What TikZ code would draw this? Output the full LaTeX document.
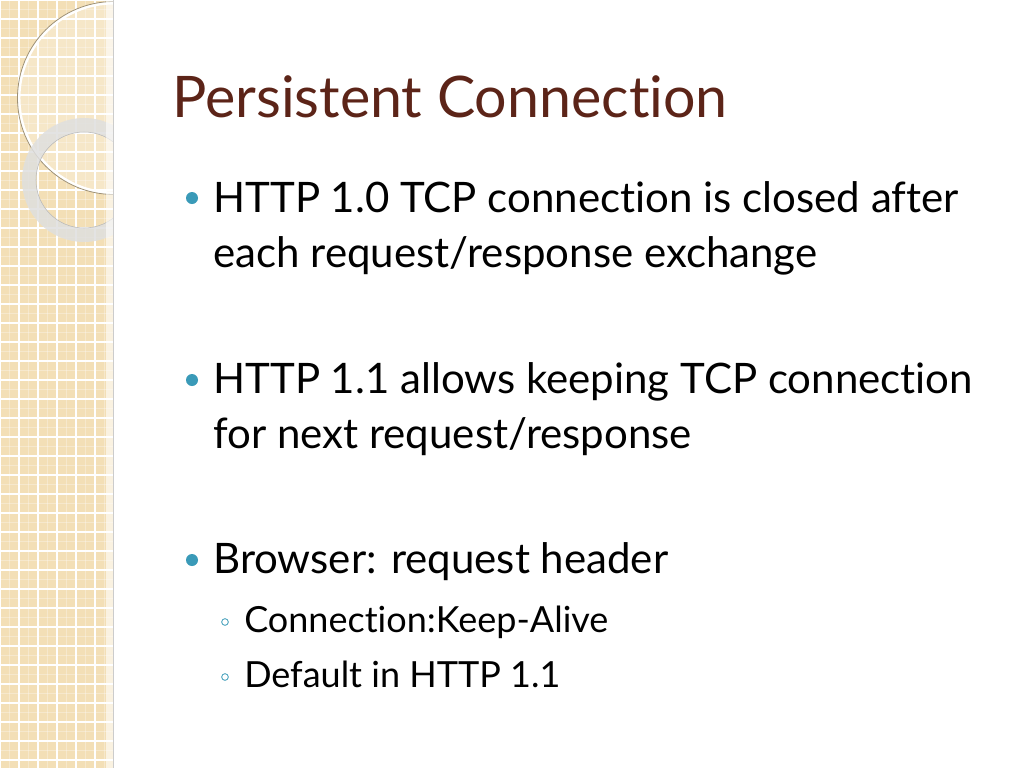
\documentclass[tikz,border=0pt]{standalone}
\usepackage{fontspec}
\setmainfont[Ligatures=NoCommon]{Lato}
\definecolor{strip}{HTML}{F3DFB6}
\definecolor{titlec}{HTML}{5C2418}
\definecolor{bul}{HTML}{3A9AB8}
\begin{document}
\begin{tikzpicture}[x=0.75pt,y=-0.75pt,
  body/.style={anchor=base west,inner sep=0pt,font=\fontsize{31.5}{36}\selectfont},
  sub/.style={anchor=base west,inner sep=0pt,font=\fontsize{27}{31}\selectfont},
  dot/.style={circle,fill=bul,inner sep=0pt,minimum size=9pt},
  ring/.style={circle,draw=bul,line width=0.6pt,inner sep=0pt,minimum size=5pt}]
\path[use as bounding box] (0,0) rectangle (1024,768);
\fill[white] (0,0) rectangle (1024,768);
\begin{scope}
\clip (0,0) rectangle (113,768);
\fill[strip] (0,0) rectangle (113,768);
\foreach \x in {0,19,...,113} \draw[white,line width=1.4pt] (\x,0) -- (\x,768);
\foreach \y in {0,19,...,768} \draw[white,line width=1.4pt] (0,\y) -- (113,\y);
\foreach \x in {9.5,28.5,...,113} \draw[white,opacity=0.3,line width=0.3pt] (\x,0) -- (\x,768);
\foreach \y in {9.5,28.5,...,768} \draw[white,opacity=0.3,line width=0.3pt] (0,\y) -- (113,\y);
\fill[white,opacity=0.25] (114,98) circle[radius=95];
\draw[white,line width=2.2pt] (114,98) circle[radius=95];
\draw[black!35!strip,line width=0.6pt] (114,98) circle[radius=96.5];
\draw[gray!25,opacity=0.85,line width=10.5pt] (84,180) circle[radius=55];
\draw[gray!55,line width=0.4pt] (84,180) circle[radius=48];
\fill[white,opacity=0.6] (106,0) rectangle (113,768);
\end{scope}
\draw[gray!40,line width=0.6pt] (113,0) -- (113,768);
\node[anchor=base west,inner sep=0pt,text=titlec,font=\fontsize{43}{50}\selectfont] (t) at (172,117) {Persistent Connection};
\node[dot] (b1) at (192,198) {};
\node[body] (l1) at (213,212) {HTTP 1.0 TCP connection is closed after};
\node[body] (l2) at (213,267) {each request/response exchange};
\node[dot] (b2) at (192,380) {};
\node[body] (l3) at (213,393) {HTTP 1.1 allows keeping TCP connection};
\node[body] (l4) at (213,448) {for next request/response};
\node[dot] (b3) at (192,560) {};
\node[body] (l5) at (213,573) {Browser: request header};
\node[ring] (s1) at (225,622) {};
\node[sub] (l6) at (244,632) {Connection:Keep-Alive};
\node[ring] (s2) at (225,677) {};
\node[sub] (l7) at (244,687) {Default in HTTP 1.1};
\end{tikzpicture}
\end{document}
